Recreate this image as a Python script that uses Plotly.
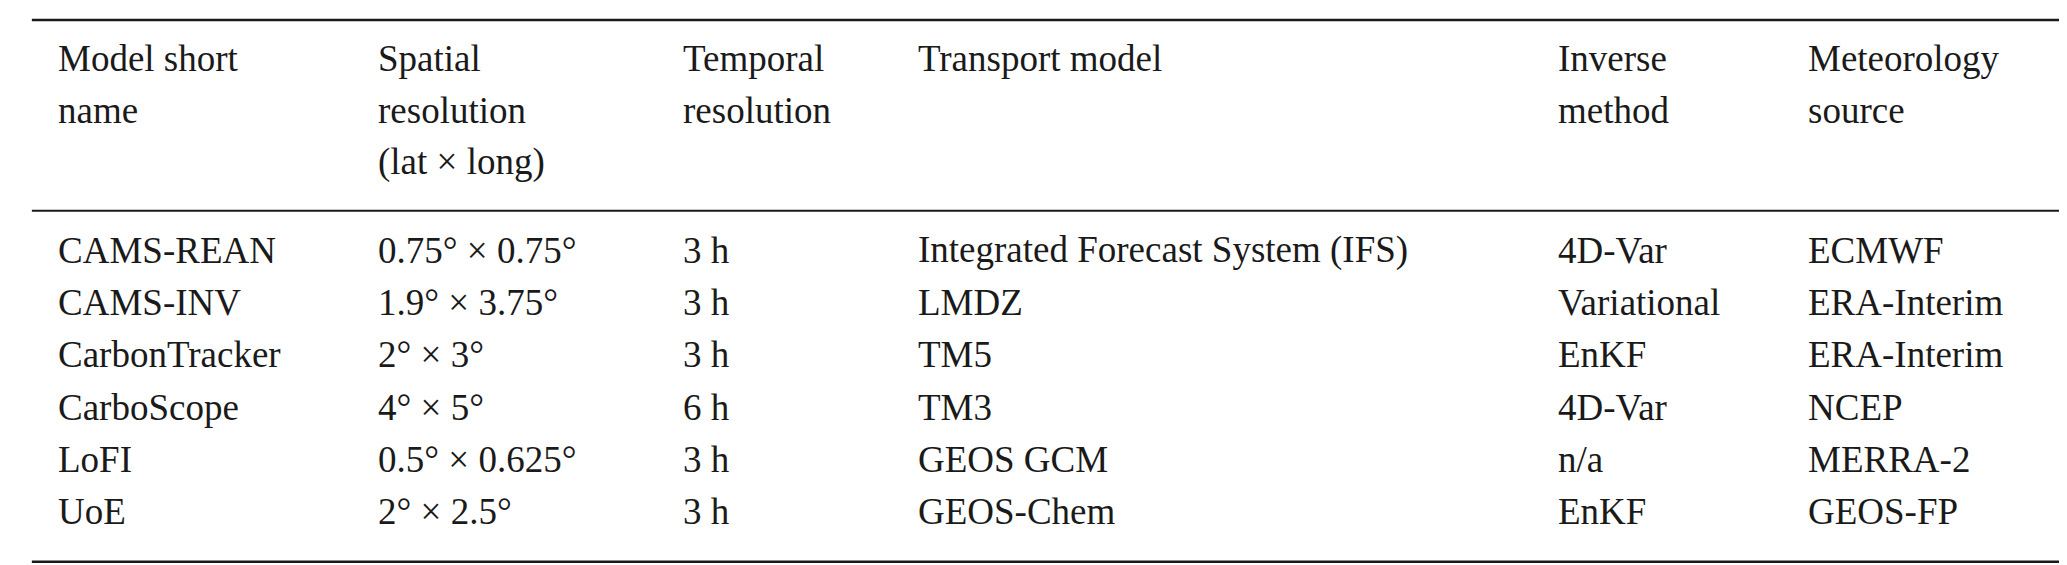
import plotly.graph_objects as go

headers = [
    ["Model short", "name"],
    ["Spatial", "resolution", "(lat × long)"],
    ["Temporal", "resolution"],
    ["Transport model"],
    ["Inverse", "method"],
    ["Meteorology", "source"],
]
models = ["CAMS-REAN", "CAMS-INV", "CarbonTracker", "CarboScope", "LoFI", "UoE"]
spatial = ["0.75° × 0.75°", "1.9° × 3.75°", "2° × 3°", "4° × 5°", "0.5° × 0.625°", "2° × 2.5°"]
temporal = ["3 h", "3 h", "3 h", "6 h", "3 h", "3 h"]
transport = ["Integrated Forecast System (IFS)", "LMDZ", "TM5", "TM3", "GEOS GCM", "GEOS-Chem"]
inverse = ["4D-Var", "Variational", "EnKF", "4D-Var", "n/a", "EnKF"]
meteo = ["ECMWF", "ERA-Interim", "ERA-Interim", "NCEP", "MERRA-2", "GEOS-FP"]

W, H = 2067, 565
S = W / 1560.0
col_x = [36, 278, 508, 685, 1168, 1357]
head_y = [38, 77, 116]
row_y0, row_dy = 183, 39.4
font = dict(family="Liberation Serif", size=37, color="#1a1a1a")

fig = go.Figure()
ann = []
for ci, h in enumerate(headers):
    for li, t in enumerate(h):
        ann.append(dict(x=col_x[ci] * S, y=head_y[li] * S, text=t, xanchor="left", yanchor="middle",
                        showarrow=False, font=font, xref="x", yref="y"))
cols = [models, spatial, temporal, transport, inverse, meteo]
for ci, col in enumerate(cols):
    for ri, t in enumerate(col):
        ann.append(dict(x=col_x[ci] * S, y=(row_y0 + ri * row_dy) * S, text=t, xanchor="left",
                        yanchor="middle", showarrow=False, font=font, xref="x", yref="y"))

shapes = []
for y, w in [(9, 2.5), (153, 2), (418, 2.5)]:
    shapes.append(dict(type="line", x0=18 * S, x1=1553 * S, y0=y * S, y1=y * S, xref="x", yref="y",
                       line=dict(color="#1a1a1a", width=w)))

fig.update_layout(
    width=W, height=H, margin=dict(l=0, r=0, t=0, b=0),
    paper_bgcolor="white", plot_bgcolor="white",
    xaxis=dict(range=[0, W], visible=False, fixedrange=True),
    yaxis=dict(range=[H, 0], visible=False, fixedrange=True),
    annotations=ann, shapes=shapes, showlegend=False,
)
fig.write_html("out.html")
